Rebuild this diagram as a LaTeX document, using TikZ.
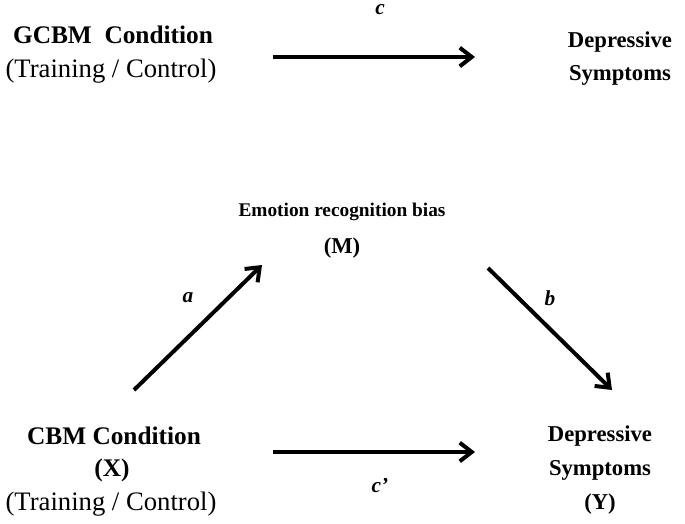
\documentclass[tikz,border=0pt]{standalone}
\usepackage{fontspec}
\setmainfont{Liberation Serif}
\usetikzlibrary{arrows.meta}
\begin{document}
\begin{tikzpicture}[x=0.75pt,y=-0.75pt,
  lbl/.style={font=\fontsize{17}{19}\selectfont\bfseries,anchor=center},
  big/.style={font=\fontsize{19}{21}\selectfont\bfseries,anchor=center},
  plain/.style={font=\fontsize{20}{22}\selectfont,anchor=center},
  ital/.style={font=\fontsize{16}{18}\selectfont\bfseries\itshape,anchor=center},
  arr/.style={line width=3pt,-{Straight Barb[length=9pt,width=14pt,line width=3pt]}}]
\useasboundingbox (0,0) rectangle (685,524);
\node[big] (g1) at (113,35) {GCBM\ \ Condition};
\node[plain] (g2) at (111,71) {(Training / Control)};
\node[ital] (c) at (380,10) {c};
\node[lbl] (d1) at (620,42) {Depressive};
\node[lbl] (d2) at (620,75) {Symptoms};
\coordinate (c1s) at (273,57); \coordinate (c1e) at (475,57);
\draw[arr] (c1s) -- (c1e);
\node[lbl,font=\fontsize{14.5}{17}\selectfont\bfseries] (m1) at (342,212) {Emotion recognition bias};
\node[lbl] (m2) at (342,248) {(M)};
\node[ital] (a) at (188,298) {a};
\node[ital] (b) at (550,298) {b};
\coordinate (as) at (134,390); \coordinate (ae) at (262,265);
\draw[arr] (as) -- (ae);
\coordinate (bs) at (488,268); \coordinate (be) at (612,390);
\draw[arr] (bs) -- (be);
\node[big] (x1) at (114,436) {CBM Condition};
\node[big] (x2) at (112,470) {(X)};
\node[plain] (x3) at (111,504) {(Training / Control)};
\coordinate (c2s) at (273,452); \coordinate (c2e) at (475,452);
\draw[arr] (c2s) -- (c2e);
\node[ital] (cp) at (380,486) {c’};
\node[lbl] (y1) at (600,436) {Depressive};
\node[lbl] (y2) at (600,470) {Symptoms};
\node[lbl] (y3) at (600,504) {(Y)};
\end{tikzpicture}
\end{document}
